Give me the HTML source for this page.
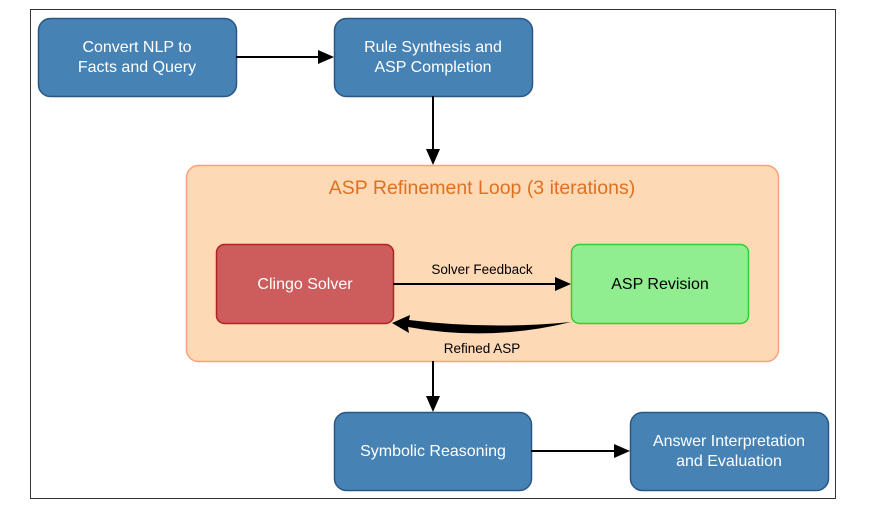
<!DOCTYPE html>
<html><head><meta charset="utf-8"><style>
html,body{margin:0;padding:0;background:#fff;width:874px;height:507px;overflow:hidden}
svg text{font-family:"Liberation Sans",Arial,sans-serif}
</style></head><body>
<svg width="874" height="507" viewBox="0 0 874 507" xmlns="http://www.w3.org/2000/svg">
<rect x="30.5" y="9.5" width="805" height="489" fill="#fff" stroke="#333" stroke-width="1"/>
<g stroke="#2a5783" stroke-width="1.5" fill="#4682b4">
<rect x="38.5" y="18.5" width="198" height="78" rx="12"/>
<rect x="334.5" y="18.5" width="198" height="78" rx="12"/>
<rect x="334.5" y="412.5" width="197" height="78" rx="12"/>
<rect x="630.5" y="412.5" width="198" height="78" rx="12"/>
</g>
<rect x="186.5" y="165.5" width="592" height="196" rx="12" fill="#fdd9b5" stroke="#f9a27c" stroke-width="1.5"/>
<rect x="216.5" y="244.5" width="177" height="79" rx="8" fill="#cd5c5c" stroke="#b22222" stroke-width="1.5"/>
<rect x="571.5" y="244.5" width="177" height="79" rx="8" fill="#90ee90" stroke="#32cd32" stroke-width="1.5"/>
<g fill="#fff" font-size="16" text-anchor="middle">
<text x="137" y="52">Convert NLP to</text>
<text x="137" y="72">Facts and Query</text>
<text x="433" y="52">Rule Synthesis and</text>
<text x="433" y="72">ASP Completion</text>
<text x="433" y="456">Symbolic Reasoning</text>
<text x="729" y="446">Answer Interpretation</text>
<text x="729" y="466">and Evaluation</text>
<text x="305" y="289">Clingo Solver</text>
</g>
<text x="482" y="289" font-size="16" text-anchor="middle" fill="#000" transform="translate(178,0)">ASP Revision</text>
<text x="482" y="194" font-size="19.5" text-anchor="middle" fill="#e07020">ASP Refinement Loop (3 iterations)</text>
<text x="482" y="274" font-size="13.5" text-anchor="middle" fill="#000">Solver Feedback</text>
<text x="482" y="353" font-size="13.5" text-anchor="middle" fill="#000">Refined ASP</text>
<g stroke="#000" stroke-width="2" fill="none">
<line x1="236" y1="57" x2="320" y2="57"/>
<line x1="433" y1="96" x2="433" y2="150"/>
<line x1="393" y1="284" x2="556" y2="284"/>
<line x1="433" y1="361" x2="433" y2="398"/>
<line x1="531" y1="451" x2="616" y2="451"/>
</g>
<g fill="#000">
<polygon points="334,57 318,50 318,64"/>
<polygon points="433,165 426,149 440,149"/>
<polygon points="571,284 555,277 555,291"/>
<polygon points="433,412 426,396 440,396"/>
<polygon points="630,451 614,444 614,458"/>
<path d="M571,322 Q490,342 408,327 L409,333 L392,323 L410,315 L409,320 Q490,330 571,322 Z"/>
</g>
</svg>
</body></html>
